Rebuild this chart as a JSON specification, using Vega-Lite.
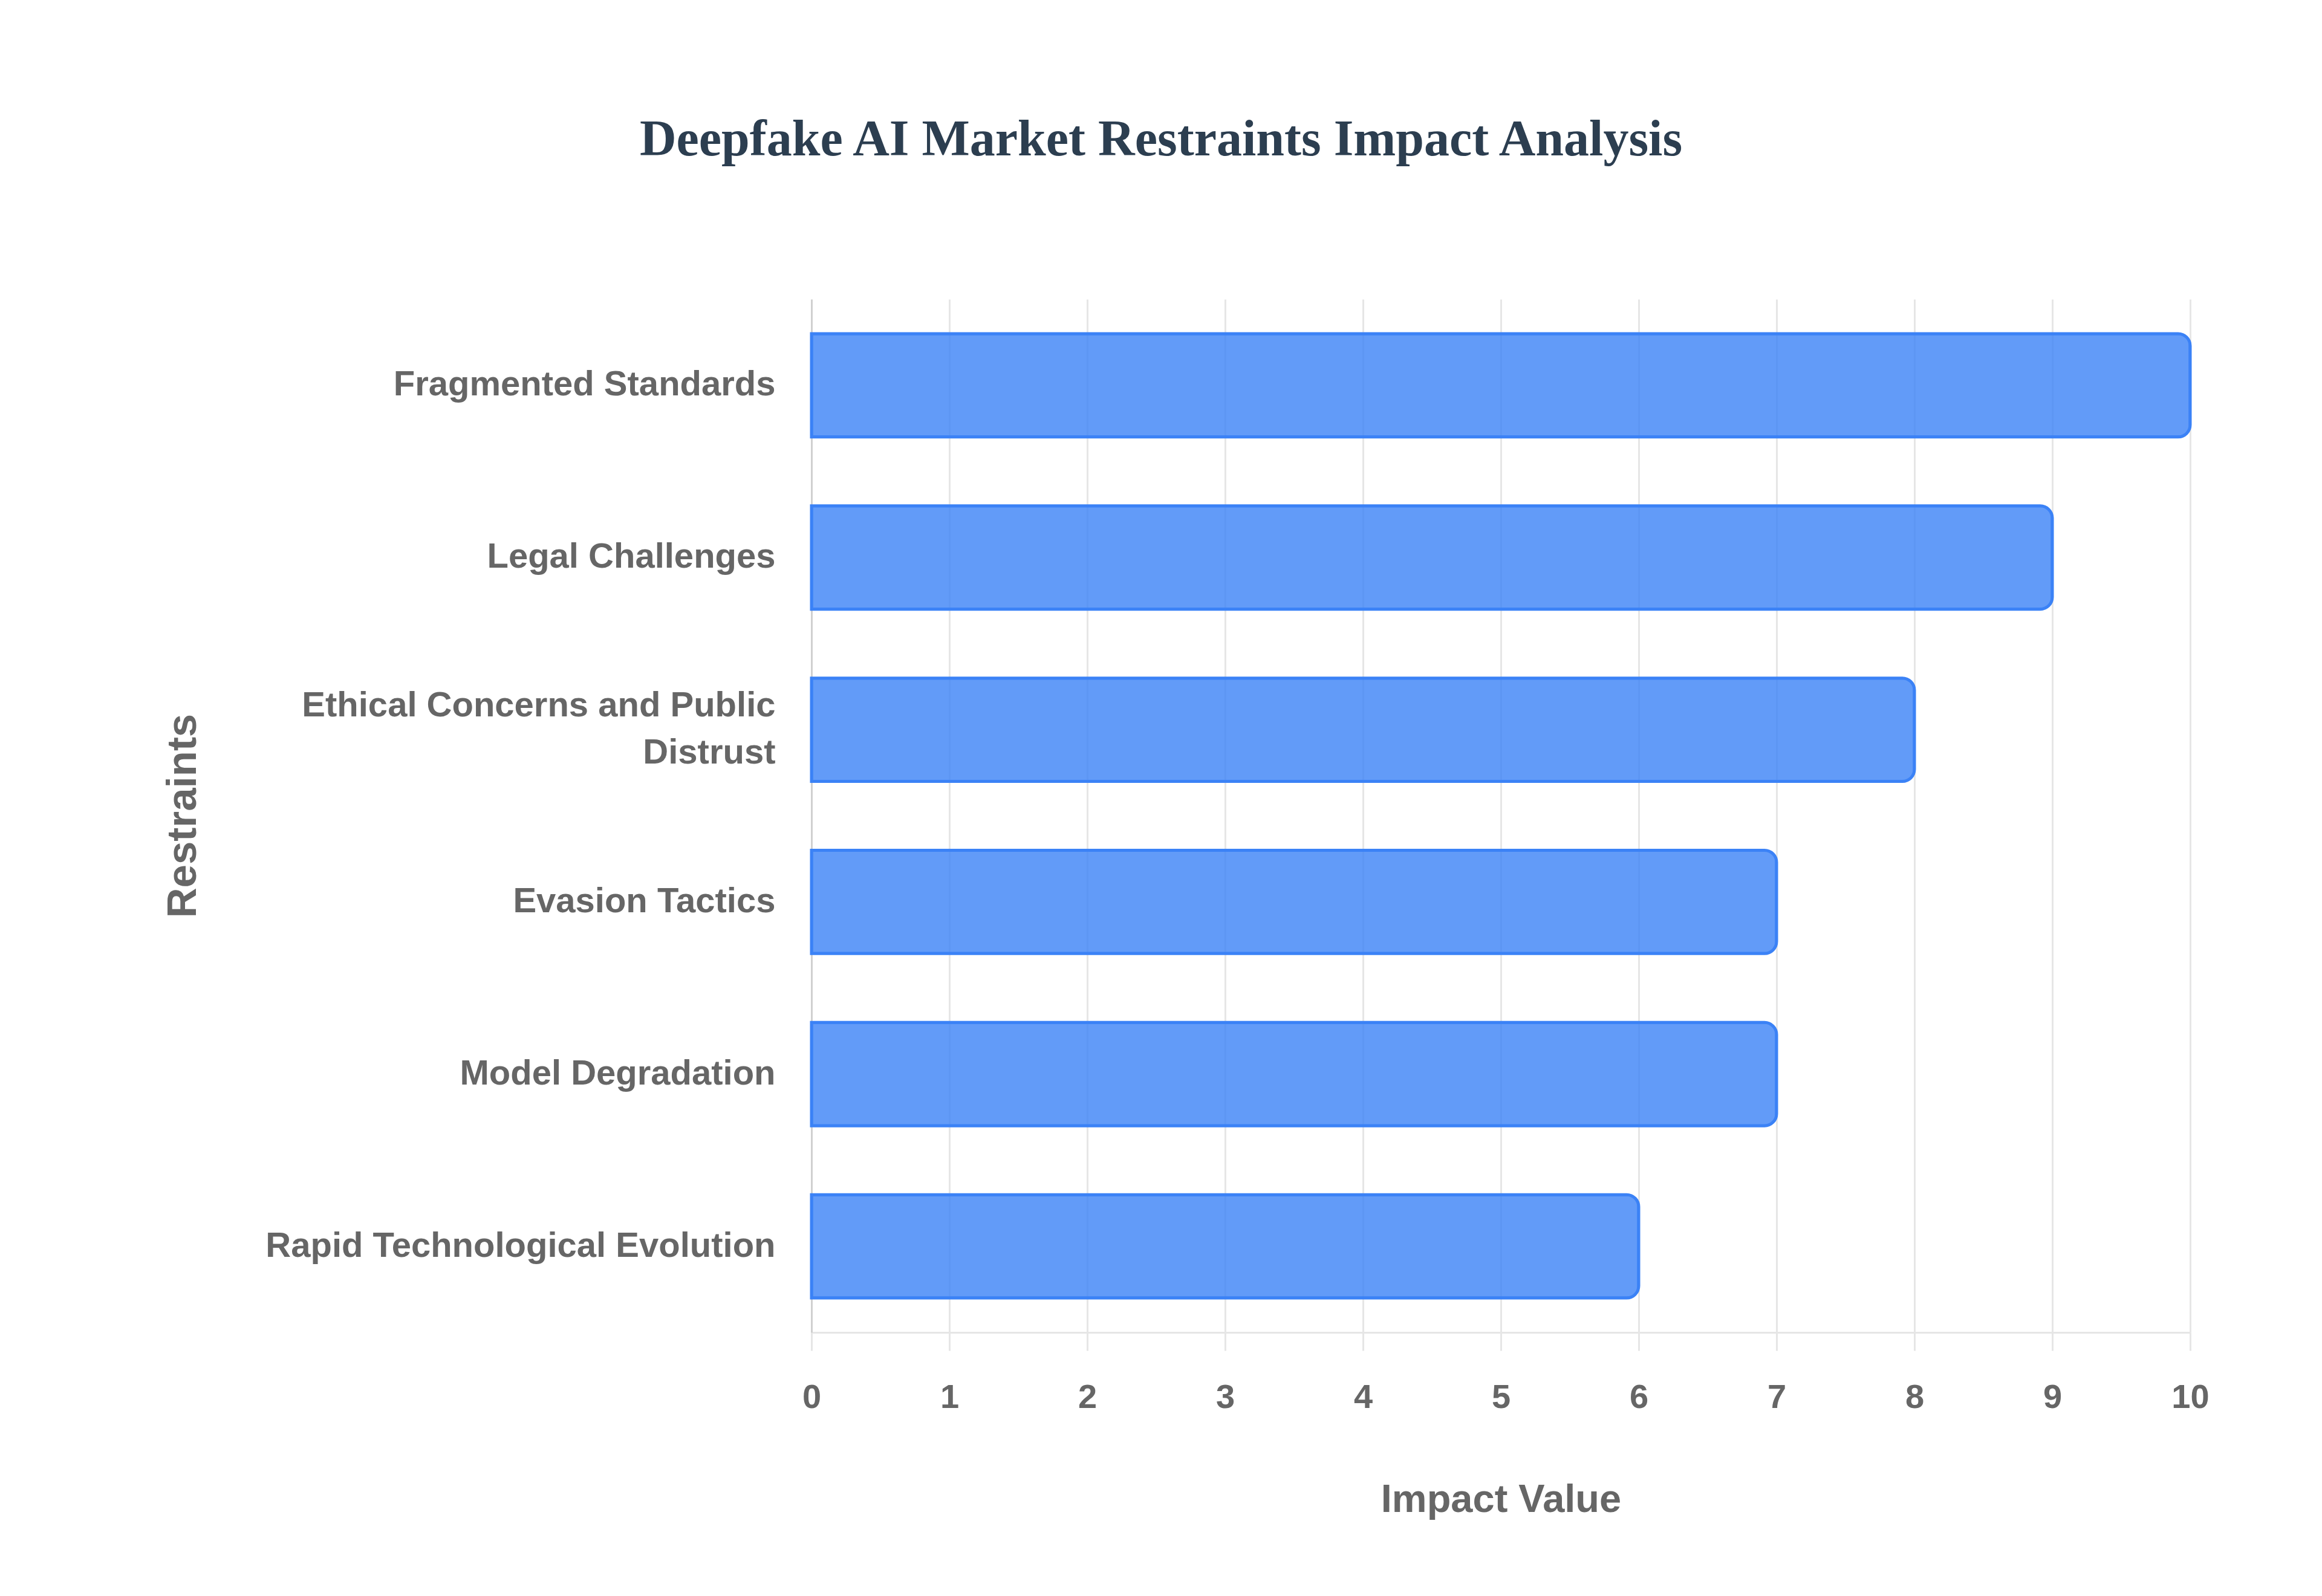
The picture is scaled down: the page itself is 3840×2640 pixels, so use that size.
{
  "$schema": "https://vega.github.io/schema/vega-lite/v6.json",
  "autosize": {"type": "none"},
  "padding": {"left": 1342, "top": 495, "right": 218, "bottom": 436},
  "width": 2280,
  "height": 1709,
  "background": "white",
  "title": {
    "text": "Deepfake AI Market Restraints Impact Analysis",
    "font": "Liberation Serif",
    "fontSize": 84,
    "fontWeight": "bold",
    "color": "#2c3e50",
    "anchor": "middle",
    "frame": "group",
    "dx": -562,
    "offset": 220
  },
  "data": {
    "values": [
      {"restraint": "Fragmented Standards", "impact": 10},
      {"restraint": "Legal Challenges", "impact": 9},
      {"restraint": "Ethical Concerns and Public Distrust", "impact": 8},
      {"restraint": "Evasion Tactics", "impact": 7},
      {"restraint": "Model Degradation", "impact": 7},
      {"restraint": "Rapid Technological Evolution", "impact": 6}
    ]
  },
  "mark": {
    "type": "bar",
    "fill": "#3b82f6",
    "fillOpacity": 0.8,
    "stroke": "#3b82f6",
    "strokeWidth": 5,
    "cornerRadiusTopRight": 20,
    "cornerRadiusBottomRight": 20
  },
  "encoding": {
    "y": {
      "field": "restraint",
      "type": "nominal",
      "sort": null,
      "scale": {"paddingInner": 0.4, "paddingOuter": 0.2},
      "title": "Restraints",
      "axis": {
        "ticks": false,
        "grid": false,
        "domainColor": "#d0d0d0",
        "domainWidth": 3,
        "labelFont": "Liberation Sans",
        "labelFontSize": 58,
        "labelFontWeight": "bold",
        "labelColor": "#666666",
        "labelPadding": 60,
        "labelLimit": 1200,
        "labelLineHeight": 78,
        "labelExpr": "datum.value == 'Ethical Concerns and Public Distrust' ? ['Ethical Concerns and Public', 'Distrust'] : datum.value",
        "labelOffset": {
          "condition": {"test": "datum.value == 'Ethical Concerns and Public Distrust'", "value": -39},
          "value": 0
        },
        "titleFont": "Liberation Sans",
        "titleFontSize": 69,
        "titleFontWeight": "bold",
        "titleColor": "#666666",
        "titleX": -1040,
        "titleY": 854,
        "titleBaseline": "middle",
        "titleAlign": "center"
      }
    },
    "x": {
      "field": "impact",
      "type": "quantitative",
      "scale": {"domain": [0, 10], "nice": false},
      "title": "Impact Value",
      "axis": {
        "values": [0, 1, 2, 3, 4, 5, 6, 7, 8, 9, 10],
        "grid": true,
        "gridColor": "#e6e6e6",
        "gridWidth": 3,
        "domainColor": "#e6e6e6",
        "domainWidth": 3,
        "tickColor": "#e6e6e6",
        "tickWidth": 3,
        "tickSize": 30,
        "labelFlush": false,
        "labelFont": "Liberation Sans",
        "labelFontSize": 56,
        "labelFontWeight": "bold",
        "labelColor": "#666666",
        "labelPadding": 50,
        "titleFont": "Liberation Sans",
        "titleFontSize": 65,
        "titleFontWeight": "bold",
        "titleColor": "#666666",
        "titlePadding": 110
      }
    }
  },
  "config": {"view": {"stroke": null}}
}
